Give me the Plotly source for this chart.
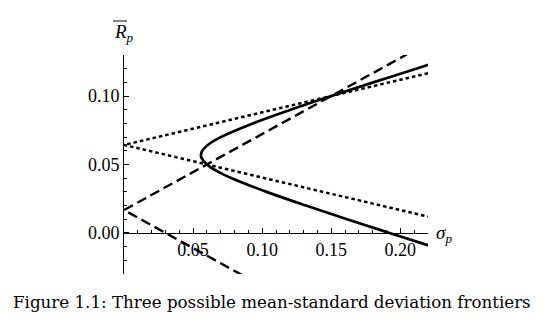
import plotly.graph_objects as go

# Data
# Solid frontier (intermediate correlation), points along the curve
frontier_sigma = [0.2232, 0.1921, 0.1614, 0.1316, 0.1032, 0.0780, 0.0677, 0.0600,
                  0.0560, 0.0557, 0.0566, 0.0616, 0.0700, 0.0932, 0.1206, 0.1500,
                  0.1804, 0.2114, 0.2207]
frontier_mean = [-0.010, 0.000, 0.010, 0.020, 0.030, 0.040, 0.045, 0.050,
                 0.055, 0.057, 0.060, 0.065, 0.070, 0.080, 0.090, 0.100,
                 0.110, 0.120, 0.123]

# Dashed frontier (perfect positive correlation)
dashed_sigma = [0.0855, 0.0, 0.2048]
dashed_mean = [-0.0308, 0.0167, 0.1305]

# Dotted frontier (perfect negative correlation)
dotted_sigma = [0.22, 0.0, 0.22]
dotted_mean = [0.1167, 0.0643, 0.0119]

x_tickvals = [0.05, 0.10, 0.15, 0.20]
x_ticktext = ["0.05", "0.10", "0.15", "0.20"]
y_tickvals = [0.00, 0.05, 0.10]
y_ticktext = ["0.00", "0.05", "0.10"]

caption = "Figure 1.1: Three possible mean-standard deviation frontiers"

FONT = "Liberation Serif"
CAP_FONT = "DejaVu Serif"

fig = go.Figure()
fig.add_trace(go.Scatter(x=dashed_sigma, y=dashed_mean, mode="lines",
                         line=dict(color="black", width=2.4, dash="10px,5px"),
                         showlegend=False, hoverinfo="skip"))
fig.add_trace(go.Scatter(x=dotted_sigma, y=dotted_mean, mode="lines",
                         line=dict(color="black", width=2.5, dash="3.5px,3px"),
                         showlegend=False, hoverinfo="skip"))
fig.add_trace(go.Scatter(x=frontier_sigma, y=frontier_mean, mode="lines",
                         line=dict(color="black", width=2.7, shape="spline"),
                         showlegend=False, hoverinfo="skip"))

W, H = 547, 333
ML, MR, MT, MB = 124, 119, 55, 59
PW = W - ML - MR
PH = H - MT - MB


def px_x(px):
    return (px - ML) / PW


def px_y(py):
    return (H - MB - py) / PH


fig.update_layout(
    width=W, height=H,
    margin=dict(l=ML, r=MR, t=MT, b=MB),
    paper_bgcolor="white", plot_bgcolor="white",
    font=dict(family=FONT, size=18, color="black"),
    xaxis=dict(range=[0, 0.22], anchor="free", position=0.1875,
               showgrid=False, zeroline=False, showline=True,
               linecolor="black", linewidth=1,
               tickmode="array", tickvals=x_tickvals, ticktext=x_ticktext,
               ticks="inside", ticklen=5, tickwidth=1, tickcolor="black",
               minor=dict(tickmode="linear", tick0=0, dtick=0.01,
                          ticks="inside", ticklen=3, tickwidth=1,
                          tickcolor="black", showgrid=False),
               tickfont=dict(family=FONT, size=18)),
    yaxis=dict(range=[-0.03, 0.13], showgrid=False, zeroline=False,
               showline=True, linecolor="black", linewidth=1,
               tickmode="array", tickvals=y_tickvals, ticktext=y_ticktext,
               ticks="inside", ticklen=5, tickwidth=1, tickcolor="black",
               minor=dict(tickmode="linear", tick0=0, dtick=0.01,
                          ticks="inside", ticklen=3, tickwidth=1,
                          tickcolor="black", showgrid=False),
               tickfont=dict(family=FONT, size=18)),
    annotations=[
        dict(text="<i>R</i><sub><i>p</i></sub>", xref="paper", yref="paper",
             x=px_x(112), y=px_y(33), xanchor="left", yanchor="middle",
             showarrow=False, font=dict(family=FONT, size=19)),
        dict(text="<i>σ</i><sub><i>p</i></sub>", xref="paper", yref="paper",
             x=px_x(434), y=px_y(234), xanchor="left", yanchor="middle",
             showarrow=False, font=dict(family=FONT, size=19)),
        dict(text=caption, xref="paper", yref="paper",
             x=px_x(11), y=px_y(302), xanchor="left", yanchor="middle",
             showarrow=False, font=dict(family=CAP_FONT, size=16.7)),
    ],
    shapes=[
        dict(type="line", xref="paper", yref="paper",
             x0=px_x(113), x1=px_x(127), y0=px_y(21), y1=px_y(21),
             line=dict(color="black", width=1)),
    ],
)

fig.write_html("out.html")
